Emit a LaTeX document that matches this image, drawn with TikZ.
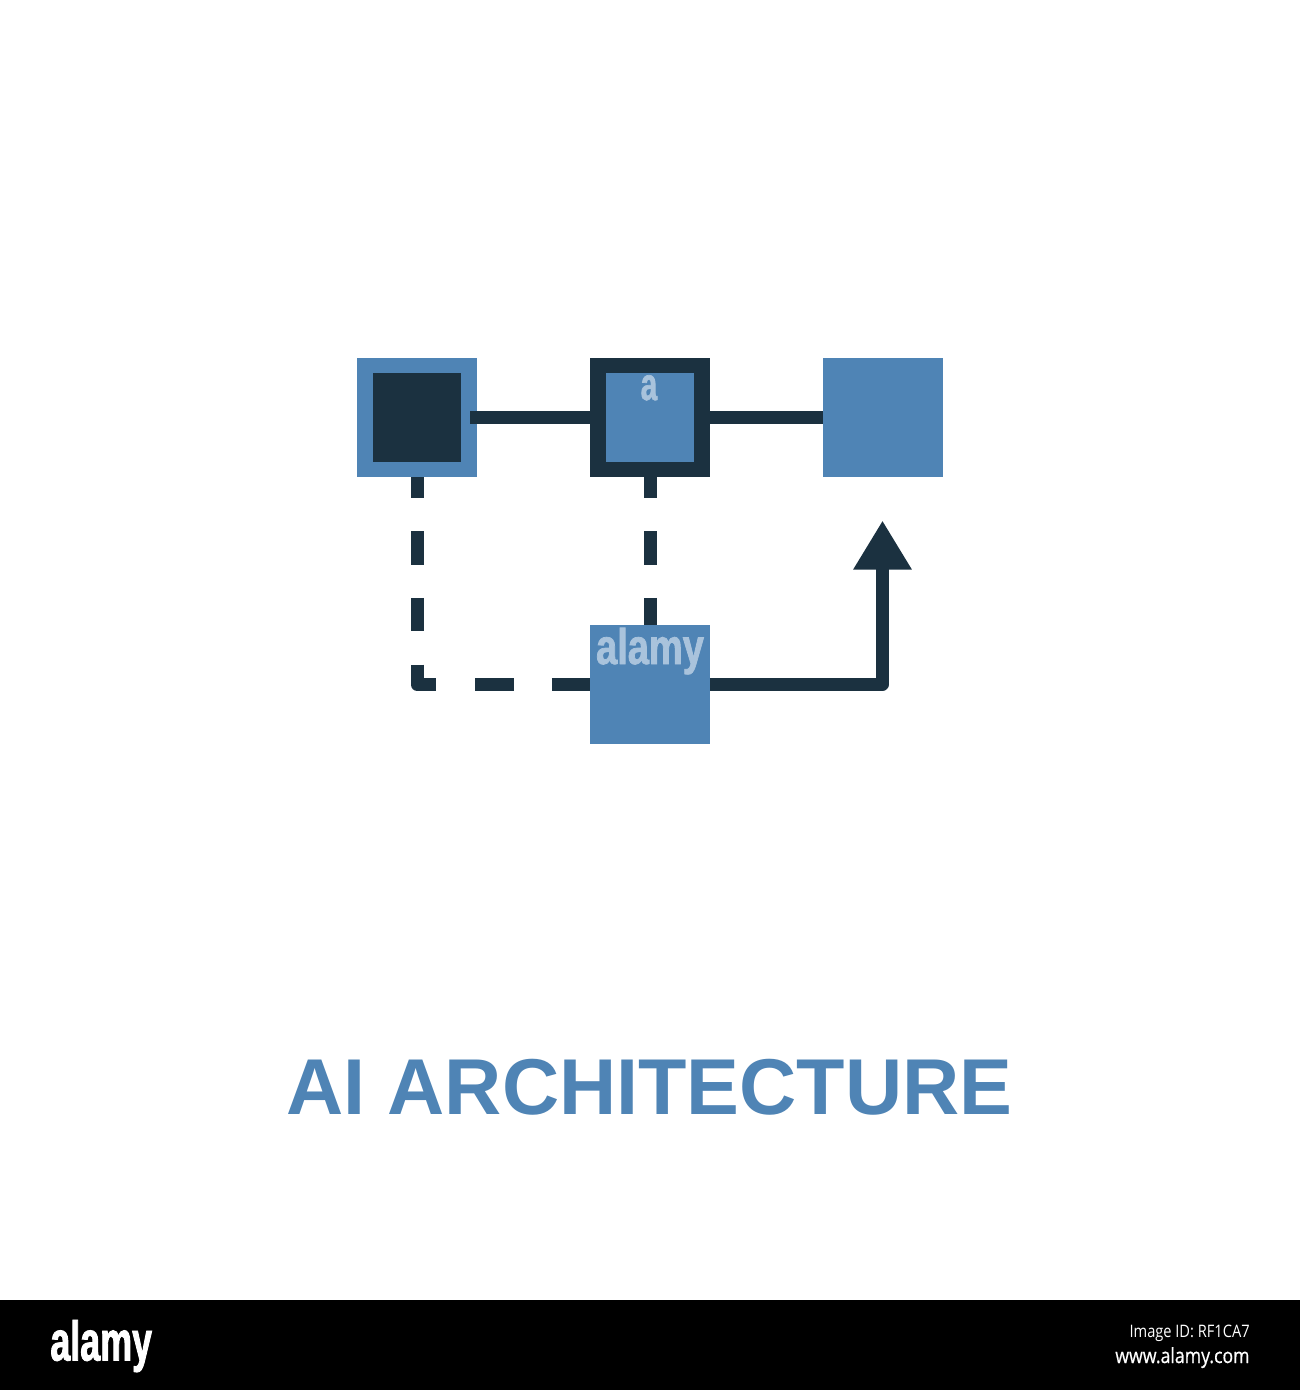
\documentclass[tikz,border=0pt]{standalone}
\usepackage{fontspec}
\usepackage{tikz}
\usetikzlibrary{arrows.meta}
\setmainfont{Liberation Sans}
\newfontfamily\logofont[FakeStretch=0.64,FakeBold=1.5]{Liberation Sans Bold}
\newfontfamily\markfont[FakeStretch=0.76,FakeBold=1.5]{Liberation Sans Bold}
\newfontfamily\infofont[FakeStretch=0.85]{Open Sans}
\newfontfamily\sitefont[FakeStretch=0.85,FakeBold=0.6]{Open Sans}
\definecolor{iconblue}{HTML}{4F84B5}
\definecolor{icondark}{HTML}{1B3140}
\definecolor{marklight}{HTML}{A9C3DC}

\begin{document}
\begin{tikzpicture}[x=0.5pt, y=-0.5pt, node distance=116.5pt]
        \tikzstyle{block} = [rectangle, inner sep=0pt, minimum size=52pt, line width=7.75pt, draw=iconblue, fill=iconblue]
        \tikzstyle{link} = [line width=6.5pt, line join=round, draw=icondark]
        \tikzstyle{arrow} = [link, line width=6.2pt, -{Triangle[width=27.5pt,length=24.5pt]}]
        \tikzstyle{watermark} = [inner sep=0pt, anchor=base, text=marklight]

        \useasboundingbox (0,0) rectangle (1300,1390);
        \fill [white] (0,0) rectangle (1300,1390);
        \fill [black] (0,1300) rectangle (1300,1390);

        \node (input) [block, fill=icondark] at (417,417.5) {};
        \node (hidden) [block, draw=icondark, right of=input] {};
        \node (output) [block, right of=hidden] {};
        \node (merge) [block, below of=hidden, yshift=-17pt] {};
        \coordinate (tip) at (882.5,520.5);

        \draw [link] ([xshift=-3.2pt]input.east) -- (hidden.west);
        \draw [link] (hidden.east) -- (output.west);
        \draw [link, dash pattern=on 10.15pt off 16.85pt on 16.65pt off 16.7pt on 16.65pt off 16.65pt on 19.7pt off 19.35pt on 19.2pt off 19.15pt on 19pt] (input.south) |- (merge.west);
        \draw [link, dash pattern=on 10.15pt off 16.85pt on 16.65pt off 16.7pt on 14pt] (hidden.south) -- (merge.north);
        \draw [arrow] (merge.east) -| (tip);

        \node (marka) [watermark, font=\logofont\fontsize{23}{23}\selectfont] at (649,400) {a};
        \node (markalamy) [watermark, font=\markfont\fontsize{25}{25}\selectfont] at (650,664) {alamy};

        \node (title) [inner sep=0pt, anchor=base, text=iconblue, font=\bfseries\fontsize{39.6}{39.6}\selectfont] at (649.5,1114) {AI ARCHITECTURE};

        \node (logo) [inner sep=0pt, anchor=base west, text=white, font=\logofont\fontsize{28}{28}\selectfont] at (50,1360.5) {alamy};
        \node (imageid) [inner sep=0pt, anchor=base east, text=white, font=\infofont\fontsize{8.6}{8.6}\selectfont] at (1250,1337) {Image ID: RF1CA7};
        \node (website) [inner sep=0pt, anchor=base east, text=white, font=\sitefont\fontsize{10.4}{10.4}\selectfont] at (1250,1363) {www.alamy.com};
    \end{tikzpicture}
\end{document}
